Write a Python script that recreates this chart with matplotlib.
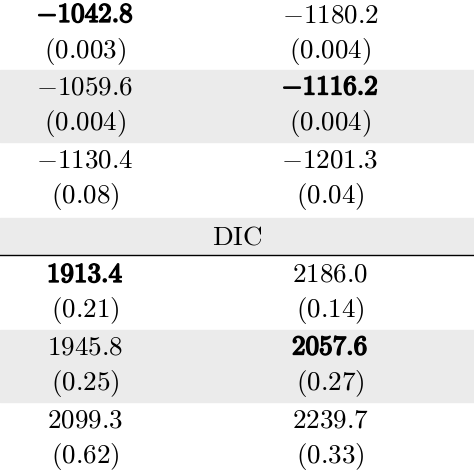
import matplotlib.pyplot as plt
import matplotlib.patheffects as pe
from matplotlib.patches import Rectangle

plt.rcParams['mathtext.fontset'] = 'cm'

# table cells (left column, right column); bold flags mark best per block
top_vals = [("-1042.8", "-1180.2"), ("-1059.6", "-1116.2"), ("-1130.4", "-1201.3")]
top_se = [("(0.003)", "(0.004)"), ("(0.004)", "(0.004)"), ("(0.08)", "(0.04)")]
top_bold = [(True, False), (False, True), (False, False)]
dic_vals = [("1913.4", "2186.0"), ("1945.8", "2057.6"), ("2099.3", "2239.7")]
dic_se = [("(0.21)", "(0.14)"), ("(0.25)", "(0.27)"), ("(0.62)", "(0.33)")]
dic_bold = [(True, False), (False, True), (False, False)]

fig = plt.figure(figsize=(4.74, 4.74), dpi=100)
ax = fig.add_axes([0, 0, 1, 1])
ax.set_xlim(0, 474)
ax.set_ylim(474, 0)
ax.axis('off')

gray = '#ebebeb'
col_x = [85, 330]
fs = 19.5
bold_fx = [pe.withStroke(linewidth=1.1, foreground='black')]


def put(x, y, s, bold=False):
    t = ax.text(x, y, r'$\mathrm{%s}$' % s, ha='center', va='center', fontsize=fs)
    if bold:
        t.set_path_effects(bold_fx)


def block(vals, se, bold, y0):
    for i, (row, serow, brow) in enumerate(zip(vals, se, bold)):
        y = y0 + i * 72.5
        if i == 1:
            ax.add_patch(Rectangle((0, y - 18), 474, 72, color=gray, zorder=0))
        for x, v, s, b in zip(col_x, row, serow, brow):
            put(x, y, v, b)
            put(x, y + 36, s)


block(top_vals, top_se, top_bold, 15)
ax.add_patch(Rectangle((0, 218), 474, 36, color=gray, zorder=0))
put(237, 237, 'DIC')
ax.plot([0, 474], [254.5, 254.5], color='black', lw=1)
block(dic_vals, dic_se, dic_bold, 275)

fig.savefig('out.png', dpi=100)
